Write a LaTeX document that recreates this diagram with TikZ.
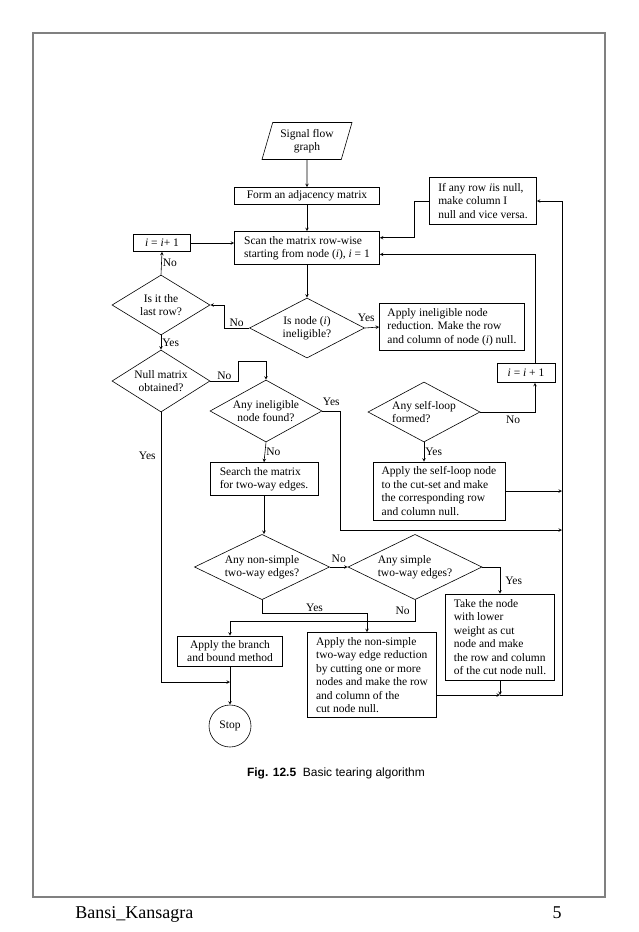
\documentclass[tikz,border=0pt]{standalone}
\usepackage{fontspec}
\setmainfont{Liberation Serif}
\newfontfamily\capfont{Liberation Sans}
\usetikzlibrary{shapes.geometric,calc}

\begin{document}
\begin{tikzpicture}[x=1pt,y=-1pt,>=stealth,line width=0.6pt,
		txt/.style={font=\fontsize{11.5}{13.5}\selectfont},
		blk/.style={draw,txt,inner sep=0pt,align=left},
		dec/.style={draw,txt,diamond,aspect=1.8,inner sep=0pt,align=center},
		lbl/.style={txt,inner sep=1pt}]
			\useasboundingbox (0,0) rectangle (638,932);
			\draw[line width=2.5pt,gray] (33,33) rectangle (605,897);
			\node[draw,txt,trapezium,trapezium left angle=66,trapezium right angle=114,trapezium stretches body,minimum width=90pt,minimum height=37pt,inner sep=0pt,align=center] (sfg) at (307,141) {Signal flow\\graph};
			\node[blk,align=center,minimum width=145pt,minimum height=17pt] (adj) at (307,196) {Form an adjacency matrix};
			\node[blk,minimum width=145pt,minimum height=33pt] (scan) at (307,248) {Scan the matrix row-wise\\starting from node (\textit{i}), \textit{i} = 1};
			\node[blk,minimum width=107pt,minimum height=47pt] (ifany) at (483,201) {If any row \textit{i}is null,\\make column I\\null and vice versa.};
			\node[blk,align=center,minimum width=57pt,minimum height=17pt] (incL) at (162,243) {\textit{i} = \textit{i}+ 1};
			\node[dec,minimum width=98pt,minimum height=60pt] (lastrow) at (161,305) {Is it the\\last row?};
			\node[dec,minimum width=115pt,minimum height=60pt] (isnode) at (307,328) {Is node (\textit{i})\\ineligible?};
			\node[blk,minimum width=145pt,minimum height=47pt] (inelred) at (452,327) {Apply ineligible node\\reduction. Make the row\\and column of node (\textit{i}) null.};
			\node[blk,align=center,minimum width=58pt,minimum height=19pt] (incR) at (526,373) {\textit{i} = \textit{i} + 1};
			\node[dec,minimum width=98pt,minimum height=62pt] (nullmat) at (161,381) {Null matrix\\obtained?};
			\node[dec,minimum width=112pt,minimum height=62pt] (anyinel) at (266,411) {Any ineligible\\node found?};
			\node[dec,align=left,minimum width=112pt,minimum height=60pt] (selfloop) at (424,412) {Any self-loop\\formed?};
			\node[blk,minimum width=132pt,minimum height=58pt] (selfred) at (439,491) {Apply the self-loop node\\to the cut-set and make\\the corresponding row\\and column null.};
			\node[blk,minimum width=108pt,minimum height=33pt] (search) at (264,479) {Search the matrix\\for two-way edges.};
			\node[dec,minimum width=135pt,minimum height=60pt] (nonsimple) at (262,567) {Any non-simple\\two-way edges?};
			\node[dec,align=left,minimum width=134pt,minimum height=60pt] (simple) at (415,567) {Any simple\\two-way edges?};
			\node[blk,align=center,minimum width=105pt,minimum height=30pt] (bnb) at (230,651) {Apply the branch\\and bound method};
			\node[blk,minimum width=129pt,minimum height=85pt] (nsred) at (372,675) {Apply the non-simple\\two-way edge reduction\\by cutting one or more\\nodes and make the row\\and column of the\\cut node null.};
			\node[blk,minimum width=109pt,minimum height=86pt] (take) at (500,637) {Take the node\\with lower\\weight as cut\\node and make\\the row and column\\of the cut node null.};
			\node[draw,txt,circle,minimum size=42pt,inner sep=0pt] (stop) at (230,726) {Stop};
			\coordinate (j1) at (562,530);
			\coordinate (j2) at (562,491);
			\coordinate (j3) at (230,682);
			\coordinate (j4) at (500,695);
			\coordinate (j5) at (562,695);
			\draw[->] (sfg) -- (adj);
			\draw[->] (adj) -- (scan);
			\draw[->] (ifany.west) -- ++(-15,0) |- (scan.8);
			\draw[->] ($(incR.north)+(9,0)$) |- (scan.-5);
			\draw[->] (selfloop.east) -| ($(incR.south)+(9,0)$) node[lbl,pos=0.3,below=3pt] {No};
			\draw[->] (incL.east) -- (incL.east -| scan.west);
			\draw[->] (lastrow.north) -- (incL.south) node[lbl,midway,right] {No};
			\draw[->] (isnode.west) -- ++(-25,0) node[lbl,midway,above] {No} |- (lastrow.east);
			\draw[->] (scan) -- (isnode);
			\draw[->] (isnode.east) -- (inelred.west) node[lbl,pos=0.1,above=5pt] {Yes};
			\draw[->] (lastrow.south) -- (nullmat.north) node[lbl,midway,right] {Yes};
			\draw[->] (nullmat.east) -- ++(28,0) node[lbl,midway,above] {No} |- ($(anyinel.north)+(0,-18)$) -- (anyinel.north);
			\draw[->] (anyinel.east) -- ++(18,0) node[lbl,midway,above=4pt] {Yes} |- (j1);
			\draw[->] (anyinel.south) -- (search.north) node[lbl,midway,right] {No};
			\draw[->] (selfloop.south) -- (selfloop.south |- selfred.north) node[lbl,midway,right] {Yes};
			\draw[->] (selfred.east) -- (j2);
			\draw[->] (search.south) -- (search.south |- nonsimple.north);
			\draw[->] (nonsimple.east) -- (simple.west) node[lbl,midway,above=3pt] {No};
			\draw[->] (nonsimple.south) -- ++(0,13) -| ($(nsred.north)+(-5,0)$) node[lbl,pos=0.25,above] {Yes};
			\draw[->] (simple.south) -- ++(0,21) node[lbl,midway,left=4pt] {No} -| (bnb.north);
			\draw[->] (simple.east) -| (take.north) node[lbl,pos=0.75,right=4pt] {Yes};
			\draw[->] (bnb.south) -- (stop.north);
			\draw[->] (nullmat.south) |- (j3) node[lbl,pos=0.08,left=4pt] {Yes};
			\draw[->] (take.south) -- (j4);
			\draw[->] (nsred.east |- j4) -- (j4);
			\draw[->] (j4) -- (j5) -- (j5 |- ifany.east) -- (ifany.east);
			\node[font=\capfont\fontsize{12}{14}\selectfont] (cap) at (336,773) {\textbf{Fig. 12.5}\ \ Basic tearing algorithm};
			\node[font=\fontsize{18}{20}\selectfont,anchor=base west,inner sep=0pt] (author) at (75,918) {Bansi\_Kansagra};
			\node[font=\fontsize{18}{20}\selectfont,anchor=base east,inner sep=0pt] (page) at (562,918) {5};
		\end{tikzpicture}
\end{document}
